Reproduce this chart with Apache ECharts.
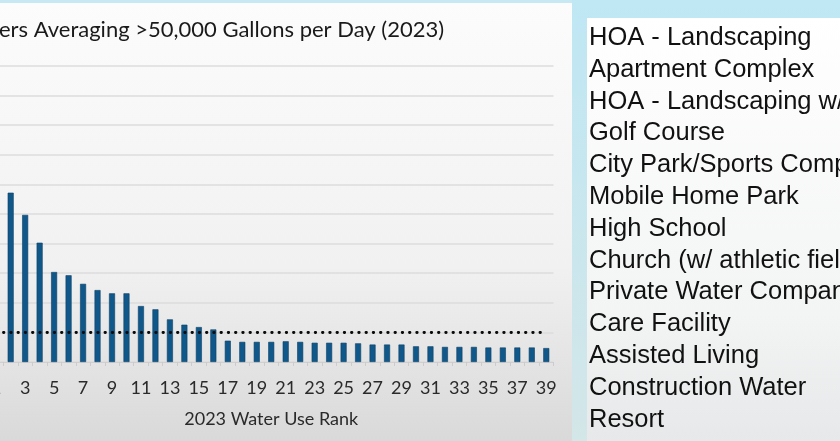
<!DOCTYPE html>
<html>
<head>
<meta charset="utf-8">
<script src="https://cdn.jsdelivr.net/npm/echarts@6/dist/echarts.min.js"></script>
<style>
html,body{margin:0;padding:0;background:#c6e9f4;overflow:hidden;}
#wrap{position:relative;width:840px;height:441px;overflow:hidden;}
#c{position:absolute;left:-12px;top:0;width:852px;height:441px;}
</style>
</head>
<body>
<div id="wrap"><div id="c"></div></div>
<script>
// Data (thousand gallons per day)
var ranks = [];
for (var i = 1; i <= 39; i++) ranks.push(String(i));
var usage = [690, 572, 497, 403, 304, 293, 264, 243, 232, 232,
             189, 178, 144, 126, 118, 110, 72, 68, 68, 68,
             70, 68, 65, 65, 65, 63, 59, 59, 59, 53,
             53, 51, 51, 51, 49, 49, 49, 49, 47];
var threshold = 100;
var titleText = 'ers Averaging >50,000 Gallons per Day (2023)';
var xAxisName = '2023 Water Use Rank';
var listItems = ['HOA - Landscaping', 'Apartment Complex', 'HOA - Landscaping w/',
  'Golf Course', 'City Park/Sports Comp', 'Mobile Home Park', 'High School',
  'Church (w/ athletic fiel', 'Private Water Compan', 'Care Facility',
  'Assisted Living', 'Construction Water', 'Resort'];

var OFF = 12; // container is shifted 12px left so the chart is cropped like the reference
var chart = echarts.init(document.getElementById('c'), null, {renderer: 'canvas'});

var graphics = [
  {type: 'rect', z: -20, shape: {x: OFF + 0, y: 3, width: 572, height: 438},
   style: {fill: new echarts.graphic.LinearGradient(0, 0, 0, 1, [
     {offset: 0, color: '#fcfcfc'}, {offset: 0.6, color: '#f1f1f1'}, {offset: 1, color: '#d9d9d9'}])}},
  {type: 'rect', z: -20, shape: {x: OFF + 572, y: 0, width: 268, height: 441},
   style: {fill: new echarts.graphic.LinearGradient(0, 0, 0, 1, [
     {offset: 0, color: '#bfe7f4'}, {offset: 1, color: '#d3e6e8'}])}},
  {type: 'rect', z: -19, shape: {x: OFF + 587, y: 18, width: 253, height: 423},
   style: {fill: new echarts.graphic.LinearGradient(0, 0, 0, 1, [
     {offset: 0, color: '#ffffff'}, {offset: 0.7, color: '#f3f4f4'}, {offset: 1, color: '#e6e8e9'}])}},
  {type: 'text', z: 10, left: OFF - 1, top: 19,
   style: {text: titleText, font: '22px Lato', fill: '#1a1a1a'}}
];
listItems.forEach(function (t, k) {
  graphics.push({type: 'text', z: 10, left: OFF + 589, top: 25 + k * 31.8,
    style: {text: t, font: '25.5px "Liberation Sans"', fill: '#111111'}});
});

chart.setOption({
  animation: false,
  graphic: graphics,
  grid: {left: 0.25, right: 286.5, top: 66, bottom: 79, containLabel: false},
  xAxis: {
    type: 'category', data: ranks,
    name: xAxisName, nameLocation: 'middle', nameGap: 48,
    nameTextStyle: {fontFamily: 'Lato', fontSize: 18, color: '#2a2a2a'},
    axisLine: {lineStyle: {color: '#d0d0d0', width: 1}},
    axisTick: {show: true, interval: 0, length: 4, lineStyle: {color: '#cccccc'}},
    axisLabel: {interval: 1, margin: 17, fontFamily: 'Lato', fontSize: 18, color: '#2a2a2a'}
  },
  yAxis: {
    type: 'value', min: 0, max: 1000, interval: 100,
    axisLabel: {show: false}, axisLine: {show: false}, axisTick: {show: false},
    splitLine: {lineStyle: {color: '#dcdcdc', width: 1.5}}
  },
  series: [{
    type: 'bar', data: usage, barWidth: 6,
    itemStyle: {color: '#11588a', borderColor: '#0b3f66', borderWidth: 0.6},
    markLine: {
      silent: true, symbol: 'none', label: {show: false},
      lineStyle: {color: '#0a0a0a', width: 2.8, type: [0.5, 6.75], cap: 'round'},
      data: [[{coord: ['1', threshold]}, {coord: ['39', threshold]}]]
    }
  }]
});
</script>
</body>
</html>
